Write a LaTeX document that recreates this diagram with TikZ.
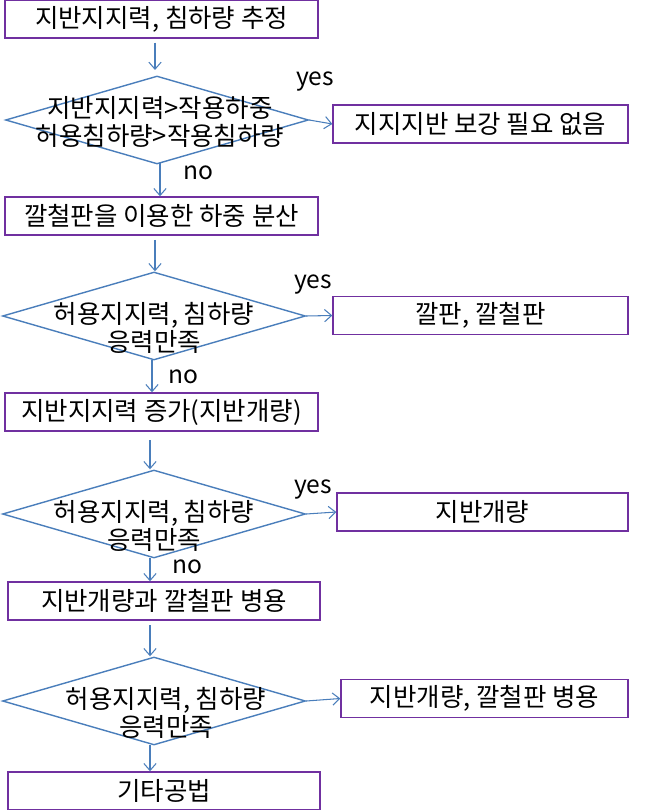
\documentclass[tikz,border=0pt]{standalone}
\usepackage{fontspec}
\setmainfont{Noto Sans CJK KR}
\usetikzlibrary{shapes.geometric,arrows.meta}
\definecolor{bx}{HTML}{7030A0}
\definecolor{dm}{HTML}{4A7EBB}
\begin{document}
\begin{tikzpicture}[x=0.02cm,y=-0.02cm,
  box/.style={draw=bx,line width=0.8pt,minimum height=0.76cm,inner sep=0,font=\fontsize{14.5}{16}\selectfont},
  dia/.style={draw=dm,diamond,line width=0.8pt,minimum width=6.06cm,minimum height=1.76cm,inner sep=0},
  dtext/.style={align=center,font=\fontsize{14.5}{15.5}\selectfont},
  arr/.style={draw=dm,line width=0.6pt,-{Straight Barb[length=4pt,width=7pt]}},
  lab/.style={font=\fontsize{14}{16}\selectfont}]
\useasboundingbox (0,0) rectangle (655,810);
\node[box,minimum width=6.26cm] (b1) at (161.5,19) {지반지지력, 침하량 추정};
\node[dia] (d1) at (157,120) {};
\node[dtext] at (160,122) {지반지지력>작용하중\\허용침하량>작용침하량};
\node[box,minimum width=5.9cm] (r1) at (480.5,124) {지지지반 보강 필요 없음};
\node[box,minimum width=6.26cm] (b2) at (161.5,216) {깔철판을 이용한 하중 분산};
\node[dia] (d2) at (154,316) {};
\node[dtext] at (154,328) {허용지지력, 침하량\\응력만족};
\node[box,minimum width=5.9cm] (r2) at (480.5,315.5) {깔판, 깔철판};
\node[box,minimum width=6.26cm] (b3) at (161.5,412) {지반지지력 증가(지반개량)};
\node[dia] (d3) at (154,514) {};
\node[dtext] at (154,526) {허용지지력, 침하량\\응력만족};
\node[box,minimum width=5.82cm] (r3) at (482.5,512) {지반개량};
\node[box,minimum width=6.24cm] (b4) at (164,601) {지반개량과 깔철판 병용};
\node[dia] (d4) at (154,701) {};
\node[dtext] at (166,713) {허용지지력, 침하량\\응력만족};
\node[box,minimum width=5.74cm] (r4) at (484.5,698.5) {지반개량, 깔철판 병용};
\node[box,minimum width=6.24cm] (b5) at (164,791) {기타공법};
\draw[arr] (b1.south -| 155,0) ++(0,4) -- (155,70);
\draw[arr] (d1.east) -- (r1.west);
\draw[arr] (160,163) -- (b2.north -| 160,0);
\draw[arr] (155,240) -- (d2.north -| 155,0);
\draw[arr] (d2.east) -- (r2.west);
\draw[arr] (152,360) -- (b3.north -| 152,0);
\draw[arr] (150,440) -- (d3.north -| 150,0);
\draw[arr] (d3.east) -- (r3.west);
\draw[arr] (150,558) -- (b4.north -| 150,0);
\draw[arr] (150,625) -- (d4.north -| 150,0);
\draw[arr] (d4.east) -- (r4.west);
\draw[arr] (150,745) -- (b5.north -| 150,0);
\node[lab] at (315,82) {yes};
\node[lab] at (313,285) {yes};
\node[lab] at (313,490) {yes};
\node[lab] at (198,173) {no};
\node[lab] at (183,377) {no};
\node[lab] at (187,567) {no};
\end{tikzpicture}
\end{document}
